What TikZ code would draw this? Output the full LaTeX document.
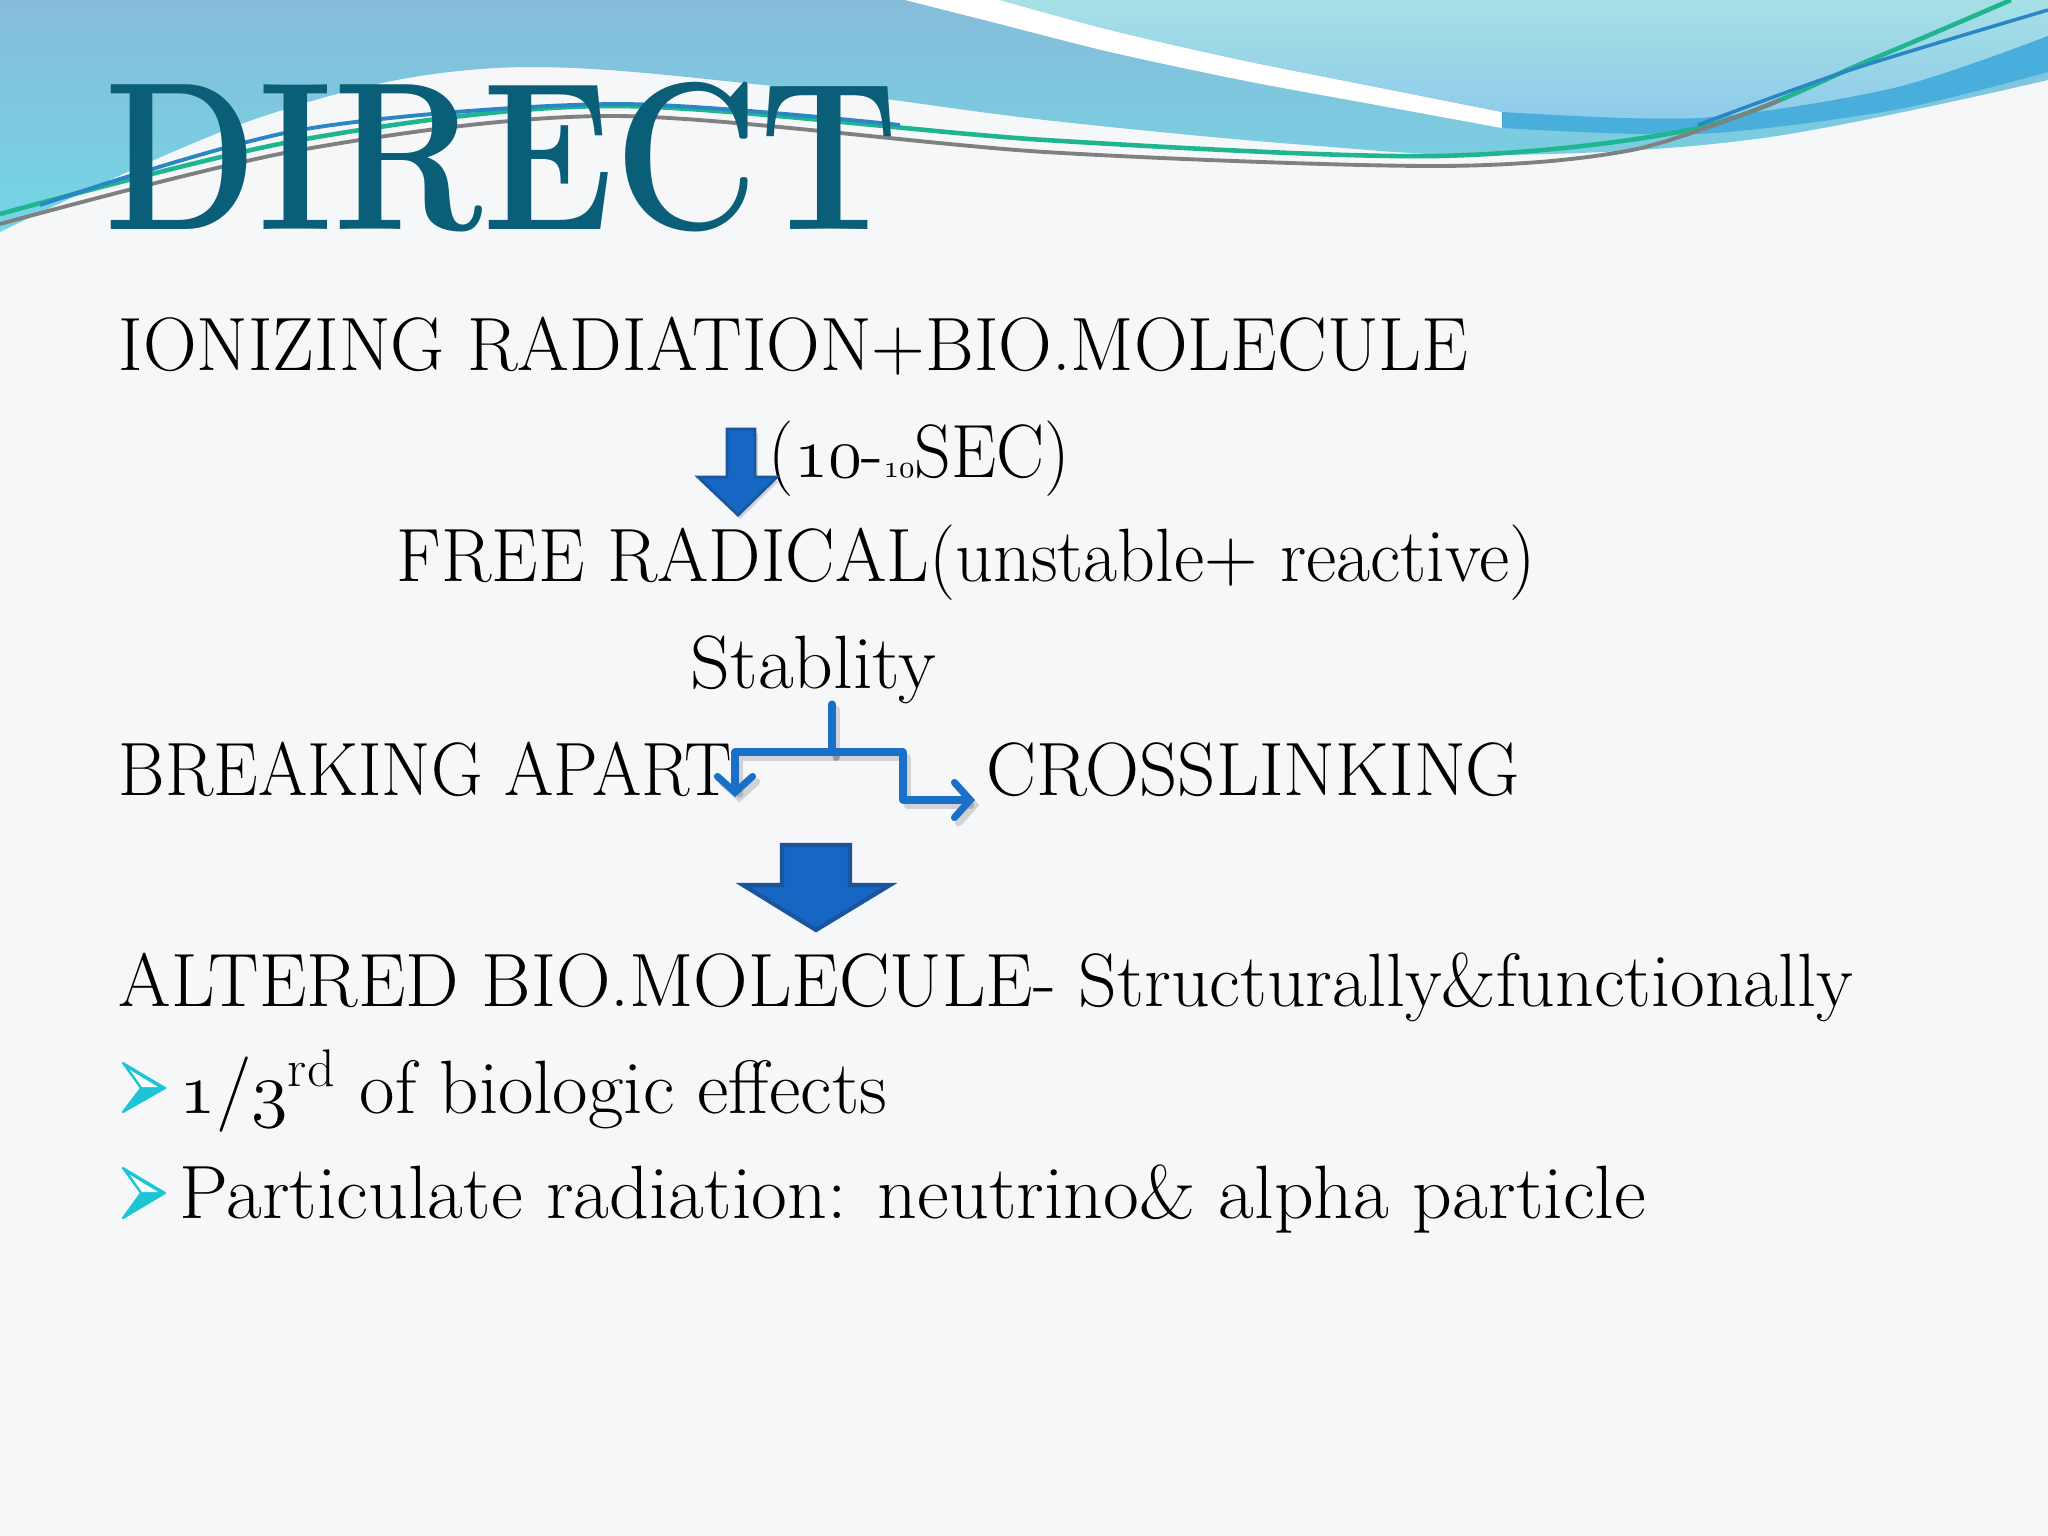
\documentclass[tikz,border=0pt]{standalone}
\usepackage{fontspec}
\usetikzlibrary{arrows.meta,shadows}
\definecolor{bgc}{HTML}{F6F7F9}
\definecolor{topblue}{HTML}{86BCDA}
\definecolor{cyanw}{HTML}{74D6E6}
\definecolor{lightt}{HTML}{A6E0E6}
\definecolor{lightb}{HTML}{8ECBEA}
\definecolor{ribbon}{HTML}{4AAEDC}
\definecolor{titlec}{HTML}{0B5E78}
\definecolor{connc}{HTML}{1A70C8}
\definecolor{bigf}{HTML}{1666C4}
\definecolor{bigd}{HTML}{1A559E}
\definecolor{bulc}{HTML}{1CC5D6}
\definecolor{greenl}{HTML}{1FB58E}
\definecolor{bluel}{HTML}{2A86C4}
\newcommand{\osn}[1]{{\usefont{OML}{cmm}{m}{it}#1}}
\newcommand{\sx}[2]{\scalebox{#1}[1]{#2}}
\tikzset{
  body/.style={anchor=base west, inner sep=0pt, font=\fontsize{21.5}{26}\selectfont, text=black},
  conn/.style={draw=connc, line width=2pt, line join=round, line cap=round},
  conntip/.style={-{Straight Barb[length=4.5pt,width=10pt,line cap=round]}},
  bigarrow/.style={fill=bigf, draw=bigd, line width=1.2pt, line join=miter},
  bullet/.style={fill=bulc, draw=bulc, line width=0.6pt, line join=round},
}
\begin{document}
\begin{tikzpicture}[x=0.01cm, y=-0.01cm]
\useasboundingbox (0,0) rectangle (2048,1536);
\fill[bgc] (0,0) rectangle (2048,1536);
% upper blue region
\shade[top color=topblue, bottom color=cyanw]
  (0,0) -- (2048,0) -- (2048,80)
  -- plot[smooth, tension=0.6] coordinates {(2048,80) (1763,138) (1502,155) (1306,145) (1045,120) (784,87) (496,68) (261,117) (0,232)}
  -- cycle;
% white band
\fill[white] plot[smooth] coordinates {(905,0) (992,22) (1110,52) (1241,80) (1371,104) (1502,128)}
  -- plot[smooth] coordinates {(1502,112) (1371,86) (1241,60) (1110,30) (1000,0)} -- cycle;
% light region
\shade[top color=lightt, bottom color=lightb]
  plot[smooth] coordinates {(1000,0) (1110,30) (1241,60) (1371,86) (1502,112)}
  -- plot[smooth] coordinates {(1502,112) (1698,118) (1894,88) (2048,36)}
  -- (2048,0) -- cycle;
% ribbon
\fill[ribbon] plot[smooth] coordinates {(1502,112) (1698,118) (1894,88) (2048,36)}
  -- (2048,72) -- plot[smooth] coordinates {(2048,72) (1894,110) (1698,134) (1502,128)} -- cycle;
% thin lines
\draw[greenl, line width=1.3pt] plot[smooth] coordinates {(0,214) (300,140) (614,106) (1045,140) (1437,156) (1698,128) (1870,60) (2011,0)};
\draw[gray, line width=1.1pt] plot[smooth] coordinates {(0,224) (300,150) (614,116) (1045,152) (1437,166) (1632,150) (1780,100)};
\draw[bluel, line width=1.1pt] plot[smooth] coordinates {(40,205) (300,130) (614,104) (900,125)};
\draw[bluel, line width=1pt] plot[smooth] coordinates {(1698,125) (1850,70) (2048,10)};
% title
\node[anchor=base west, inner sep=0pt, text=titlec, font=\fontsize{60}{60}\bfseries] (title) at (104,229) {\sx{0.845}{DIRECT}};
% body lines
\node[body] (l1) at (118,370) {\sx{0.985}{IONIZING RADIATION+BIO.MOLECULE}};
\node[body] (l2) at (768,477) {\sx{0.95}{(\osn{10}-{\fontsize{9}{9}\selectfont\osn{10}}SEC)}};
\node[body] (l3) at (396,581) {\sx{0.98}{FREE RADICAL(unstable+ reactive)}};
\node[body] (l4) at (690,688) {\sx{1.03}{Stablity}};
\node[body] (l5) at (118,795) {\sx{0.94}{BREAKING APART}};
\node[body] (l5b) at (986,795) {\sx{0.99}{CROSSLINKING}};
\node[body] (l6) at (118,1006) {ALTERED BIO.MOLECULE- Structurally\&functionally};
\node[body] (l7) at (179,1113) {\sx{1.02}{\osn{1}/\osn{3}\textsuperscript{rd} of biologic effects}};
\node[body] (l8) at (179,1218) {\sx{1.03}{Particulate radiation: neutrino\& alpha particle}};
% small arrow
\fill[black, opacity=0.15] (730,433) -- (758,433) -- (758,481) -- (779,481) -- (740,519) -- (700,481) -- (730,481) -- cycle;
\path[bigarrow, line width=0.8pt] (727,429) -- (755,429) -- (755,477) -- (777,477) -- (738,515) -- (698,477) -- (727,477) -- cycle;
% connector
\coordinate (s0) at (832,704);
\coordinate (s1) at (832,752);
\coordinate (bl) at (735,752);
\coordinate (btip) at (735,797);
\coordinate (br) at (903,752);
\coordinate (brd) at (903,800);
\coordinate (ctip) at (975,800);
\begin{scope}[transform canvas={shift={(1.2pt,-1.5pt)}}]
\draw[conn, draw=black, opacity=0.15] (s0) -- (s1);
\draw[conn, conntip, draw=black, opacity=0.15] (s1) -- (bl) -- (btip);
\draw[conn, conntip, draw=black, opacity=0.15] (s1) -- (br) -- (brd) -- (ctip);
\end{scope}
\draw[conn] (s0) -- (s1);
\draw[conn, conntip] (s1) -- (bl) -- (btip);
\draw[conn, conntip] (s1) -- (br) -- (brd) -- (ctip);
% big arrow
\path[bigarrow] (782,845) -- (850,845) -- (850,885) -- (890,885) -- (816,930) -- (743,885) -- (782,885) -- cycle;
% bullets
\path[bullet] (123,1063) -- (165,1088) -- (123,1112) -- (141,1088) -- cycle;
\fill[white] (130,1070) -- (158,1087) -- (142,1087) -- cycle;
\path[bullet] (123,1168) -- (165,1193) -- (123,1218) -- (141,1193) -- cycle;
\fill[white] (130,1175) -- (158,1192) -- (142,1192) -- cycle;
\end{tikzpicture}
\end{document}
